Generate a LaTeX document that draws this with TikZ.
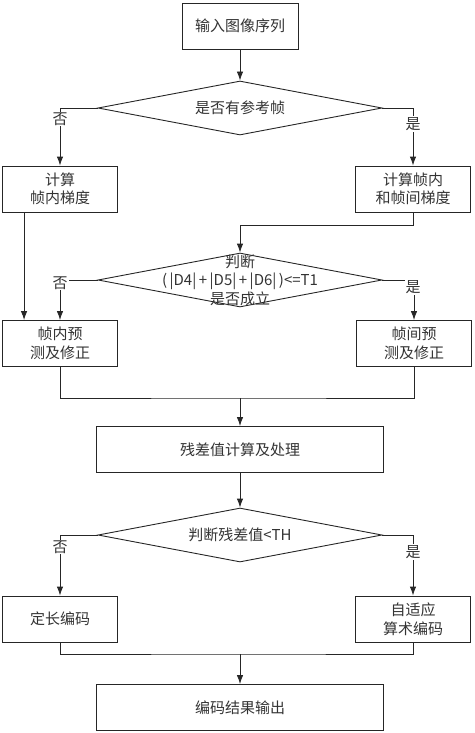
\documentclass[tikz,border=0pt]{standalone}
\usepackage{fontspec}
\setmainfont{Noto Sans CJK SC}
\usepackage{tikz}
\usetikzlibrary{shapes.geometric, arrows.meta, positioning}

\begin{document}
\begin{tikzpicture}[x=1pt, y=-1pt, font=\fontsize{15}{18.5}\selectfont,
  line width=0.9pt, draw=black!85, text=black!80,
  stepbox/.style={draw=black!85, rectangle, minimum height=46pt, align=center, inner sep=0pt},
  narrowbox/.style={stepbox, minimum width=115pt},
  widebox/.style={stepbox, minimum width=287pt},
  decision/.style={draw=black!85, diamond, minimum width=284pt, minimum height=54pt, inner sep=0pt},
  flow/.style={-{Latex[length=9pt, width=6.5pt]}},
  answer/.style={fill=white, inner sep=1pt}]

  \useasboundingbox (0,0) rectangle (474,733);

  % Input
  \node[stepbox, minimum width=116pt] (input) at (240,26) {输入图像序列};

  % Decision 1: reference frame
  \node[decision] (d1) at (240,108) {};
  \node (d1text) at (d1.center) {是否有参考帧};

  % Gradient boxes
  \node[narrowbox] (gradintra) at (60,189) {计算\\帧内梯度};
  \node[narrowbox] (gradinter) at (413,189) {计算帧内\\和帧间梯度};

  % Decision 2: threshold T1
  \node[decision] (d2) at (240,280) {};
  \node[align=center] (d2text) at (d2.center) {判断\\(\,|D4|\,+\,|D5|\,+\,|D6|\,)<=T1\\是否成立};

  % Prediction boxes
  \node[narrowbox] (predintra) at (60,343.5) {帧内预\\测及修正};
  \node[narrowbox] (predinter) at (414,343.5) {帧间预\\测及修正};

  % Residual
  \node[widebox] (resid) at (240,449.5) {残差值计算及处理};

  % Decision 3: threshold TH
  \node[decision] (d3) at (240,535) {};
  \node (d3text) at (d3.center) {判断残差值<TH};

  % Coding boxes
  \node[narrowbox] (fixcode) at (60,619) {定长编码};
  \node[narrowbox] (arithcode) at (413,619) {自适应\\算术编码};

  % Output
  \node[widebox] (output) at (240,707.5) {编码结果输出};

  % Junctions
  \coordinate (j1) at (240,398);
  \coordinate (j2) at (240,654);

  % Connectors
  \draw[flow] (input) -- (d1.north);
  \draw[flow] (d1.west) -| (gradintra.north);
  \draw[flow] (d1.east) -| (gradinter.north);
  \node[answer] (d1no) at (60,119) {否};
  \node[answer] (d1yes) at (413,124) {是};

  \draw[flow] (gradinter.south) -- ++(0,13) -| (d2.north);
  \draw[flow] ([xshift=22pt]gradintra.south west) -- ([xshift=22pt]predintra.north west);
  \draw[flow] (d2.west) -| (predintra.north);
  \draw[flow] (d2.east) -| (predinter.north);
  \node[answer] (d2no) at (60,283) {否};
  \node[answer] (d2yes) at (413,287) {是};

  \draw (predintra.south) |- (j1) -| (predinter.south);
  \draw[flow] (j1) -- (resid.north);
  \draw[flow] (resid.south) -- (d3.north);

  \draw[flow] (d3.west) -| (fixcode.north);
  \draw[flow] (d3.east) -| (arithcode.north);
  \node[answer] (d3no) at (60,547) {否};
  \node[answer] (d3yes) at (413,552) {是};

  \draw (fixcode.south) |- (j2) -| (arithcode.south);
  \draw[flow] (j2) -- (output.north);
\end{tikzpicture}
\end{document}
